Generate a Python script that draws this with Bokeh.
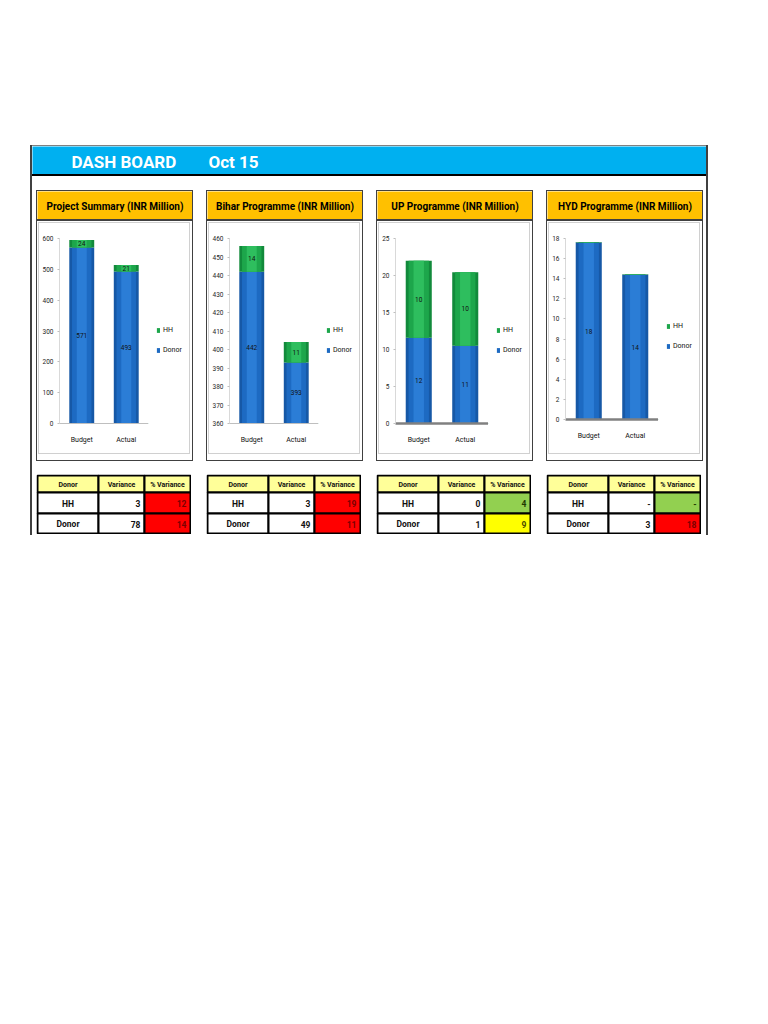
import math
from bokeh.plotting import figure
from bokeh.models import Range1d, FactorRange, ColumnDataSource, Legend, LegendItem, SingleIntervalTicker, Spacer
from bokeh.layouts import row, column
from bokeh.core.properties import value
from bokeh.embed import file_html
from bokeh.resources import INLINE

FONT = "Roboto"

# ---------------- data ----------------
dashboard_title = "DASH BOARD"
dashboard_period = "Oct 15"
categories = ["Budget", "Actual"]
series_names = ["HH", "Donor"]
panel_titles = ["Project Summary (INR Million)", "Bihar Programme (INR Million)",
                "UP Programme (INR Million)", "HYD Programme (INR Million)"]
donor_values = [[571, 493], [442, 393], [11.6, 10.5], [17.6, 14.4]]
hh_values = [[24, 21], [14, 11], [10.4, 9.95], [0.05, 0.05]]
axis_start = [0, 360, 0, 0]
axis_end = [600, 460, 25, 18]
axis_step = [100, 10, 5, 2]

table_header = ["Donor", "Variance", "% Variance"]
table_rows = ["HH", "Donor"]
variance = [["3", "78"], ["3", "49"], ["0", "1"], ["-", "3"]]
pct_variance = [["12", "14"], ["19", "11"], ["4", "9"], ["-", "18"]]
pct_status = [["red", "red"], ["red", "red"], ["green", "yellow"], ["green", "red"]]

# ---------------- style ----------------
HEADER_BLUE = "#00B0F0"
GOLD = "#FFC000"
DARK = "#404040"
LIGHT = "#D0D0D0"
BLUE = ["#1658A6", "#1D6AC2", "#2B7DD6"]
GREEN = ["#128A3B", "#1DA64B", "#2EBE5E"]
STATUS_FILL = {"red": "#FF0000", "green": "#92D050", "yellow": "#FFFF00"}
STATUS_TEXT = {"red": "#7A0000", "green": "#1E3A00", "yellow": "#4A4A00"}


def half_up(v):
    return str(int(math.floor(v + 0.5)))


def line(w, h, c):
    return Spacer(width=w, height=h, styles={"background-color": c})


def blank_fig(w, h, bg):
    p = figure(width=w, height=h, x_range=Range1d(0, w), y_range=Range1d(h, 0),
               output_backend="svg", toolbar_location=None, min_border=0,
               background_fill_color=bg, border_fill_color=bg, outline_line_color=None)
    p.axis.visible = False
    p.grid.visible = False
    return p


def make_header():
    p = blank_fig(674, 28, HEADER_BLUE)
    p.text(x=[39, 176], y=[15, 15], text=[dashboard_title, dashboard_period],
           text_baseline="middle", text_align="left", text_color="white",
           text_font=value(FONT), text_font_style="bold", text_font_size="17px")
    return p


def make_title(i):
    p = blank_fig(155, 28, GOLD)
    p.text(x=[77.5], y=[14.5], text=[panel_titles[i]], text_baseline="middle",
           text_align="center", text_color="black", text_font=value(FONT),
           text_font_style="bold", text_font_size="10px")
    return p


def make_chart(i):
    frame_left = [18, 20, 16, 15][i]
    bottom_border = [30, 30, 30, 34][i]
    p = figure(width=109, height=230, x_range=FactorRange(*categories),
               y_range=Range1d(axis_start[i], axis_end[i]),
               output_backend="svg", toolbar_location=None,
               min_border_left=frame_left, min_border_right=0,
               min_border_top=15, min_border_bottom=bottom_border,
               outline_line_color=None, background_fill_color="white",
               border_fill_color="white")
    base = max(0, axis_start[i])
    d = donor_values[i]
    h = hh_values[i]
    tot = [a + b for a, b in zip(d, h)]
    src = ColumnDataSource(dict(
        cat=categories, donor=d, total=tot,
        donor_mid=[(base + a) / 2 for a in d],
        hh_mid=[a + b / 2 for a, b in zip(d, h)],
        donor_lbl=[half_up(a) for a in d],
        hh_lbl=[half_up(b) if b >= 0.5 else "" for b in h],
    ))
    W = 0.56
    for k, fac in enumerate((1.0, 0.78, 0.4)):
        p.vbar(x="cat", top="donor", bottom=axis_start[i], width=W * fac, source=src,
               fill_color=BLUE[k], line_color=None)
    for k, fac in enumerate((1.0, 0.78, 0.4)):
        p.vbar(x="cat", top="total", bottom="donor", width=W * fac, source=src,
               fill_color=GREEN[k], line_color=None)
    for ycol, tcol in (("donor_mid", "donor_lbl"), ("hh_mid", "hh_lbl")):
        p.text(x="cat", y=ycol, text=tcol, source=src, text_align="center",
               text_baseline="middle", text_font=value(FONT), text_font_size="6.5px",
               text_color="#111111")

    p.grid.visible = False
    p.yaxis.ticker = SingleIntervalTicker(interval=axis_step[i])
    p.yaxis.minor_tick_line_color = None
    p.yaxis.major_tick_in = 0
    p.yaxis.major_tick_out = 2
    p.yaxis.major_tick_line_color = "#BFBFBF"
    p.yaxis.axis_line_color = "#D9D9D9"
    p.yaxis.major_label_standoff = 2
    p.yaxis.major_label_text_font = FONT
    p.yaxis.major_label_text_font_size = "6.5px"
    p.yaxis.major_label_text_color = "#262626"

    p.xaxis.major_tick_line_color = None
    p.xaxis.minor_tick_line_color = None
    if i >= 2:
        p.xaxis.axis_line_color = "#808080"
        p.xaxis.axis_line_width = 2.5
    else:
        p.xaxis.axis_line_color = "#BFBFBF"
    p.xaxis.major_label_standoff = 6
    p.xaxis.major_label_text_font = FONT
    p.xaxis.major_label_text_font_size = "7px"
    p.xaxis.major_label_text_color = "#111111"
    return p


def make_legend_fig():
    p = figure(width=41, height=230, x_range=Range1d(0, 1), y_range=Range1d(0, 1),
               output_backend="svg", toolbar_location=None, min_border=0,
               outline_line_color=None, background_fill_color="white",
               border_fill_color="white")
    p.axis.visible = False
    p.grid.visible = False
    # renderers kept outside the visible range: only their legend swatches are shown
    hidden = ColumnDataSource(dict(x=[-10], top=[-10]))
    r_hh = p.vbar(x="x", top="top", width=0.1, source=hidden, fill_color=GREEN[1], line_color=None)
    r_donor = p.vbar(x="x", top="top", width=0.1, source=hidden, fill_color=BLUE[1], line_color=None)
    legend = Legend(items=[LegendItem(label=series_names[0], renderers=[r_hh]),
                           LegendItem(label=series_names[1], renderers=[r_donor])],
                    location=(8, 69), orientation="vertical",
                    glyph_width=4, glyph_height=6, label_standoff=3,
                    label_height=8, label_width=10, spacing=12, padding=0, margin=0,
                    border_line_color=None, background_fill_alpha=0,
                    label_text_font=FONT, label_text_font_size="7px",
                    label_text_color="#111111")
    p.add_layout(legend)
    return p


def make_table(i):
    p = blank_fig(155, 60, "white")
    xe = [1, 62, 108, 154]
    ye = [1, 18, 39, 59]
    left, right, top, bottom, fills = [], [], [], [], []
    for r in range(3):
        for c in range(3):
            left.append(xe[c]); right.append(xe[c + 1])
            top.append(ye[r]); bottom.append(ye[r + 1])
            if r == 0:
                fills.append("#FFFF99")
            elif c == 2:
                fills.append(STATUS_FILL[pct_status[i][r - 1]])
            else:
                fills.append("white")
    p.quad(left=left, right=right, top=top, bottom=bottom, fill_color=fills,
           line_color="black", line_width=2)
    p.text(x=[(xe[c] + xe[c + 1]) / 2 for c in range(3)], y=[10] * 3, text=table_header,
           text_align="center", text_baseline="middle", text_font=value(FONT),
           text_font_style="bold", text_font_size="7px", text_color="#111111")
    ymid = [29, 49.5]
    p.text(x=[(xe[0] + xe[1]) / 2] * 2, y=ymid, text=table_rows,
           text_align="center", text_baseline="middle", text_font=value(FONT),
           text_font_style="bold", text_font_size="8.5px", text_color="#111111")
    p.text(x=[xe[2] - 4] * 2, y=ymid, text=variance[i],
           text_align="right", text_baseline="middle", text_font=value(FONT),
           text_font_style="bold", text_font_size="8.5px", text_color="#111111")
    p.text(x=[xe[3] - 4] * 2, y=ymid, text=pct_variance[i],
           text_align="right", text_baseline="middle", text_font=value(FONT),
           text_font_style="bold", text_font_size="8.5px",
           text_color=[STATUS_TEXT[s] for s in pct_status[i]])
    return p


def make_panel(i):
    chart_region = row(
        Spacer(width=1, height=239),
        column(Spacer(width=152, height=1),
               line(152, 1, LIGHT),
               row(line(1, 230, LIGHT), make_chart(i), make_legend_fig(), line(1, 230, LIGHT)),
               line(152, 1, LIGHT),
               Spacer(width=152, height=6)),
        Spacer(width=2, height=239))
    inner = column(line(155, 1, DARK), make_title(i), line(155, 2, DARK),
                   chart_region, line(155, 1, DARK))
    return row(line(1, 271, DARK), inner, line(1, 271, DARK))


panels_row = row(Spacer(width=4, height=271), make_panel(0), Spacer(width=13, height=271),
                 make_panel(1), Spacer(width=13, height=271), make_panel(2),
                 Spacer(width=13, height=271), make_panel(3), Spacer(width=3, height=271))
tables_row = row(Spacer(width=4, height=60), make_table(0), Spacer(width=15, height=60),
                 make_table(1), Spacer(width=15, height=60), make_table(2),
                 Spacer(width=15, height=60), make_table(3), Spacer(width=5, height=60))
body = column(Spacer(width=674, height=14), panels_row, Spacer(width=674, height=13),
              tables_row, Spacer(width=674, height=1))
dash = row(line(2, 390, DARK),
           column(line(674, 1, "#808080"), make_header(), line(674, 2, "black"), body),
           line(2, 390, DARK))
root = column(Spacer(width=708, height=145), row(Spacer(width=30, height=390), dash))

open("out.html", "w").write(file_html(root, INLINE, title="Dash Board"))
